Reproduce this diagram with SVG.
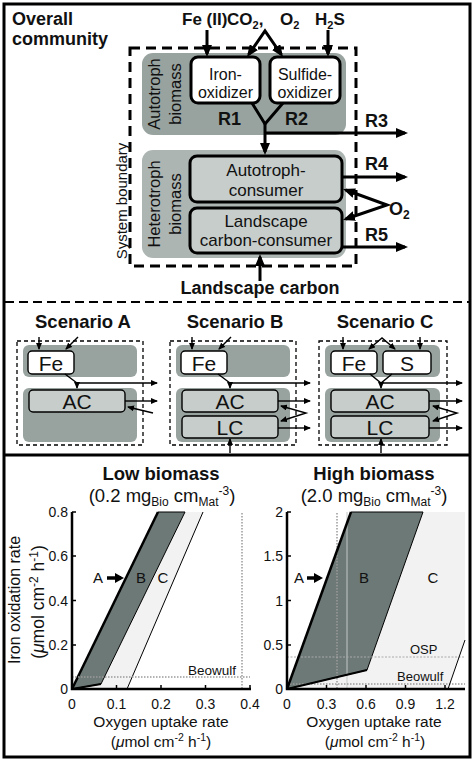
<svg xmlns="http://www.w3.org/2000/svg" width="474" height="761" viewBox="0 0 474 761">
<style>
text{font-family:"Liberation Sans",Arial,sans-serif;fill:#111}
.b{font-weight:bold}
.bx{stroke:#000;stroke-width:3}
.ln{stroke:#000;stroke-width:3;fill:none}
.sl{stroke:#000;stroke-width:1.4;fill:none}
.sb{stroke:#000;stroke-width:1.4}
.sd{fill:none;stroke:#000;stroke-width:1.3;stroke-dasharray:4 3}
.ag{fill:#98a3a0}
.lg{fill:#c6cdcb}
.dot{stroke:#9a9a9a;stroke-width:1.5;stroke-dasharray:1.5 1.5;fill:none}
.tk{font-size:14px;fill:#333}
.ax{stroke:#000;stroke-width:2.5;fill:none}
.th{stroke:#000;stroke-width:1.5}
.c{text-anchor:middle}
.r{text-anchor:end}
</style>
<defs>
<marker id="big" viewBox="0 0 12 10" refX="9" refY="5" markerWidth="12" markerHeight="10" markerUnits="userSpaceOnUse" orient="auto"><path d="M0,0L12,5L0,10z"/></marker>
<marker id="bigr" viewBox="0 0 12 10" refX="9" refY="5" markerWidth="12" markerHeight="10" markerUnits="userSpaceOnUse" orient="auto-start-reverse"><path d="M0,0L12,5L0,10z"/></marker>
<marker id="sm" viewBox="0 0 7 6" refX="6" refY="3" markerWidth="7" markerHeight="6" markerUnits="userSpaceOnUse" orient="auto"><path d="M0,0L7,3L0,6z"/></marker>
<marker id="smr" viewBox="0 0 7 6" refX="6" refY="3" markerWidth="7" markerHeight="6" markerUnits="userSpaceOnUse" orient="auto-start-reverse"><path d="M0,0L7,3L0,6z"/></marker>
<marker id="md" viewBox="0 0 9 10" refX="6" refY="5" markerWidth="9" markerHeight="10" markerUnits="userSpaceOnUse" orient="auto"><path d="M0,0L9,5L0,10z"/></marker>
</defs>
<rect width="474" height="761" fill="#fff"/>

<!-- frame -->
<g id="frame">
<rect x="4" y="4" width="466" height="753" fill="none" stroke="#000" stroke-width="3"/>
<line x1="4" y1="455" x2="470" y2="455" stroke="#000" stroke-width="3"/>
<line x1="5" y1="302" x2="469" y2="302" stroke="#000" stroke-width="2" stroke-dasharray="9 5"/>
</g>

<!-- ===== Overall community ===== -->
<g id="title-overall">
<text class="b" x="12" y="25" font-size="18">Overall</text>
<text class="b" x="12" y="45" font-size="18">community</text>
</g>

<g id="autotroph-biomass">
<rect x="142" y="53" width="204" height="82" rx="11" class="ag"/>
<text transform="translate(160,94) rotate(-90)" class="c" font-size="16.5">Autotroph</text>
<text transform="translate(181,94) rotate(-90)" class="c" font-size="16.5">biomass</text>
</g>
<g id="heterotroph-biomass">
<rect x="142" y="150" width="204" height="108" rx="11" fill="#adb5b3"/>
<text transform="translate(160,204) rotate(-90)" class="c" font-size="16.5">Heterotroph</text>
<text transform="translate(181,204) rotate(-90)" class="c" font-size="16.5">biomass</text>
</g>
<g id="system-boundary">
<rect x="130" y="48" width="226" height="218" fill="none" stroke="#000" stroke-width="3" stroke-dasharray="10 6"/>
<text transform="translate(127,201) rotate(-90)" class="c" font-size="15">System boundary</text>
</g>
<g id="iron-oxidizer">
<rect x="191" y="57" width="69" height="46" rx="7" fill="#fff" class="bx"/>
<text x="225.5" y="80" class="c" font-size="16">Iron-</text>
<text x="225.5" y="98" class="c" font-size="16">oxidizer</text>
</g>
<g id="sulfide-oxidizer">
<rect x="270" y="57" width="70" height="46" rx="7" fill="#fff" class="bx"/>
<text x="305" y="80" class="c" font-size="16">Sulfide-</text>
<text x="305" y="98" class="c" font-size="16">oxidizer</text>
</g>
<g id="autotroph-consumer">
<rect x="190" y="156" width="152" height="46" rx="7" class="lg bx"/>
<text x="266" y="176" class="c" font-size="17">Autotroph-</text>
<text x="266" y="196" class="c" font-size="17">consumer</text>
</g>
<g id="landscape-carbon-consumer">
<rect x="190" y="208" width="152" height="45" rx="7" class="lg bx"/>
<text x="266" y="227" class="c" font-size="17">Landscape</text>
<text x="266" y="246" class="c" font-size="17">carbon-consumer</text>
</g>
<g id="inputs">
<text class="b" x="182" y="25" font-size="17">Fe (II)</text>
<text class="b" x="227" y="25" font-size="17">CO<tspan dy="4" font-size="11">2</tspan><tspan dy="-4">,</tspan></text>
<text class="b" x="280" y="25" font-size="17">O<tspan dy="4" font-size="11">2</tspan></text>
<text class="b" x="315" y="25" font-size="17">H<tspan dy="4" font-size="11">2</tspan><tspan dy="-4">S</tspan></text>
<text class="b c" x="260" y="294" font-size="18">Landscape carbon</text>
<text class="b" x="389" y="215" font-size="18">O<tspan dy="4" font-size="12">2</tspan></text>
</g>
<g id="rates" class="b" font-size="18">
<text x="218" y="125">R1</text>
<text x="285" y="125">R2</text>
<text x="365" y="127">R3</text>
<text x="365" y="170">R4</text>
<text x="365" y="241">R5</text>
</g>

<g id="connectors-top" class="ln">
<line x1="207" y1="30" x2="207" y2="54" marker-end="url(#big)"/>
<path d="M248.7,54.5 L265,31 L281.3,54.5" marker-start="url(#bigr)" marker-end="url(#big)"/>
<line x1="328" y1="30" x2="328" y2="54" marker-end="url(#big)"/>
<path d="M252,103 L265,124 L283,103"/>
<line x1="265" y1="123" x2="265" y2="152" marker-end="url(#big)"/>
<line x1="265" y1="133" x2="405" y2="133" marker-end="url(#big)"/>
<line x1="342" y1="177" x2="405" y2="177" marker-end="url(#big)"/>
<line x1="342" y1="247" x2="405" y2="247" marker-end="url(#big)"/>
<path d="M345.8,190 L387,205 L345.8,219" marker-start="url(#bigr)" marker-end="url(#big)"/>
<line x1="260" y1="281" x2="260" y2="257" marker-end="url(#big)"/>
</g>

<!-- ===== Scenarios ===== -->
<g id="scenario-titles" class="b c" font-size="18.5">
<text x="83" y="328">Scenario A</text>
<text x="235" y="328">Scenario B</text>
<text x="385" y="328">Scenario C</text>
</g>

<g id="scenario-a">
<rect x="17" y="341" width="126" height="104" class="sd"/>
<rect x="23" y="345" width="114" height="32" rx="6" class="ag"/>
<rect x="23" y="388" width="114" height="54" rx="6" class="ag"/>
<rect x="28" y="351" width="46" height="23" rx="4" fill="#fff" class="sb"/>
<text x="51" y="371" class="c" font-size="21">Fe</text>
<rect x="29" y="390" width="96" height="22" rx="4" class="lg sb"/>
<text x="77" y="409" class="c" font-size="21">AC</text>
</g>
<g id="scenario-b">
<rect x="170" y="341" width="126" height="104" class="sd"/>
<rect x="176" y="345" width="114" height="32" rx="6" class="ag"/>
<rect x="176" y="388" width="114" height="54" rx="6" class="ag"/>
<rect x="181" y="351" width="46" height="23" rx="4" fill="#fff" class="sb"/>
<text x="204" y="371" class="c" font-size="21">Fe</text>
<rect x="182" y="390" width="96" height="22" rx="4" class="lg sb"/>
<text x="230" y="409" class="c" font-size="21">AC</text>
<rect x="182" y="416" width="96" height="22" rx="4" class="lg sb"/>
<text x="230" y="435" class="c" font-size="21">LC</text>
</g>
<g id="scenario-c">
<rect x="319" y="341" width="128" height="104" class="sd"/>
<rect x="325" y="345" width="115" height="32" rx="6" class="ag"/>
<rect x="325" y="388" width="115" height="54" rx="6" class="ag"/>
<rect x="331" y="351" width="46" height="23" rx="4" fill="#fff" class="sb"/>
<text x="354" y="371" class="c" font-size="21">Fe</text>
<rect x="383" y="351" width="48" height="23" rx="4" fill="#fff" class="sb"/>
<text x="407" y="371" class="c" font-size="21">S</text>
<rect x="331" y="390" width="98" height="22" rx="4" class="lg sb"/>
<text x="380" y="409" class="c" font-size="21">AC</text>
<rect x="331" y="416" width="98" height="22" rx="4" class="lg sb"/>
<text x="380" y="435" class="c" font-size="21">LC</text>
</g>

<g id="connectors-scenarios" class="sl">
<!-- A -->
<line x1="39" y1="337" x2="39" y2="349" marker-end="url(#sm)"/>
<line x1="78" y1="337" x2="66" y2="349" marker-end="url(#sm)"/>
<polyline points="65,374 77,383 77,388" marker-end="url(#sm)"/>
<line x1="77" y1="383" x2="157" y2="383" marker-end="url(#sm)"/>
<line x1="125" y1="401" x2="157" y2="401" marker-end="url(#sm)"/>
<line x1="153" y1="413" x2="128" y2="407" marker-end="url(#sm)"/>
<!-- B -->
<line x1="192" y1="337" x2="192" y2="349" marker-end="url(#sm)"/>
<line x1="231" y1="337" x2="219" y2="349" marker-end="url(#sm)"/>
<polyline points="218,374 230,383 230,388" marker-end="url(#sm)"/>
<line x1="230" y1="383" x2="310" y2="383" marker-end="url(#sm)"/>
<line x1="278" y1="401" x2="310" y2="401" marker-end="url(#sm)"/>
<line x1="278" y1="428" x2="310" y2="428" marker-end="url(#sm)"/>
<path d="M281,406 L306,413 L281,421" marker-start="url(#smr)" marker-end="url(#sm)"/>
<line x1="230" y1="453" x2="230" y2="439" marker-end="url(#sm)"/>
<!-- C -->
<line x1="343" y1="337" x2="343" y2="349" marker-end="url(#sm)"/>
<path d="M369,349 L382,338 L395,349" marker-start="url(#smr)" marker-end="url(#sm)"/>
<line x1="420" y1="337" x2="420" y2="349" marker-end="url(#sm)"/>
<path d="M370,374 L381,383 L392,374"/>
<line x1="381" y1="383" x2="381" y2="388" marker-end="url(#sm)"/>
<line x1="381" y1="383" x2="462" y2="383" marker-end="url(#sm)"/>
<line x1="429" y1="401" x2="462" y2="401" marker-end="url(#sm)"/>
<line x1="429" y1="428" x2="462" y2="428" marker-end="url(#sm)"/>
<path d="M433,406 L457,413 L433,421" marker-start="url(#smr)" marker-end="url(#sm)"/>
<line x1="381" y1="453" x2="381" y2="439" marker-end="url(#sm)"/>
</g>

<!-- ===== Low biomass chart ===== -->
<g id="chart-low">
<text x="161" y="480" class="b c" font-size="18.5">Low biomass</text>
<text x="162" y="502" class="c" font-size="18.5">(0.2 mg<tspan dy="4" font-size="12">Bio</tspan><tspan dy="-4"> cm</tspan><tspan dy="4" font-size="12">Mat</tspan><tspan dy="-11" font-size="12">-3</tspan><tspan dy="7">)</tspan></text>
<polygon points="185,512 203,512 127,689 72,689 101,684" fill="#f2f2f2"/>
<polygon points="72,689 158,512 185,512 101,684" fill="#6d7976" stroke="#000" stroke-width="1"/>
<line x1="72" y1="689" x2="158" y2="512" stroke="#000" stroke-width="2.5"/>
<line x1="72" y1="689" x2="101" y2="684" stroke="#000" stroke-width="2"/>
<line x1="203" y1="512" x2="127" y2="689" stroke="#000" stroke-width="1"/>
<line x1="242" y1="513" x2="242" y2="689" class="dot"/>
<line x1="72" y1="677" x2="250" y2="677" class="dot"/>
<text x="188" y="675" font-size="13.5" fill="#333">Beowulf</text>
<path d="M72,512 V689 H251" class="ax"/>
<g class="th">
<line x1="72" y1="512" x2="76" y2="512"/><line x1="72" y1="556" x2="76" y2="556"/><line x1="72" y1="600.5" x2="76" y2="600.5"/><line x1="72" y1="645" x2="76" y2="645"/>
<line x1="116.5" y1="689" x2="116.5" y2="685"/><line x1="161" y1="689" x2="161" y2="685"/><line x1="205.5" y1="689" x2="205.5" y2="685"/><line x1="250" y1="689" x2="250" y2="685"/>
</g>
<g class="tk r">
<text x="68" y="517">0.8</text><text x="68" y="561">0.6</text><text x="68" y="605.5">0.4</text><text x="68" y="650">0.2</text><text x="68" y="694">0</text>
</g>
<g class="tk c">
<text x="72" y="709">0</text><text x="116.5" y="709">0.1</text><text x="161" y="709">0.2</text><text x="205.5" y="709">0.3</text><text x="250" y="709">0.4</text>
</g>
<text x="98" y="583" class="c" font-size="15" fill="#222">A</text>
<line x1="107" y1="578" x2="121" y2="578" stroke="#000" stroke-width="3.5" marker-end="url(#md)"/>
<text x="141" y="583" class="c" font-size="15" fill="#222">B</text>
<text x="163" y="583" class="c" font-size="15" fill="#222">C</text>
<text transform="translate(20,600) rotate(-90)" class="c" font-size="16">Iron oxidation rate</text>
<text transform="translate(44,602) rotate(-90)" class="c" font-size="17.5">(<tspan font-style="italic">μ</tspan>mol cm<tspan dy="-6" font-size="12">-2</tspan><tspan dy="6"> h</tspan><tspan dy="-6" font-size="12">-1</tspan><tspan dy="6">)</tspan></text>
<text x="161" y="727" class="c" font-size="15.5">Oxygen uptake rate</text>
<text x="161" y="747" class="c" font-size="15.5">(<tspan font-style="italic">μ</tspan>mol cm<tspan dy="-6" font-size="10.5">-2</tspan><tspan dy="6"> h</tspan><tspan dy="-6" font-size="10.5">-1</tspan><tspan dy="6">)</tspan></text>
</g>

<!-- ===== High biomass chart ===== -->
<g id="chart-high">
<text x="374" y="480" class="b c" font-size="18.5">High biomass</text>
<text x="374" y="502" class="c" font-size="18.5">(2.0 mg<tspan dy="4" font-size="12">Bio</tspan><tspan dy="-4"> cm</tspan><tspan dy="4" font-size="12">Mat</tspan><tspan dy="-11" font-size="12">-3</tspan><tspan dy="7">)</tspan></text>
<polygon points="423,512 465,512 465,640 448,689 287,689 367,670" fill="#f2f2f2"/>
<polygon points="287,689 351,512 423,512 367,670" fill="#6d7976" stroke="#000" stroke-width="1"/>
<line x1="347" y1="512" x2="347" y2="689" stroke="#c3c9c7" stroke-width="1"/>
<line x1="337" y1="513" x2="337" y2="689" class="dot"/>
<line x1="287" y1="657" x2="465" y2="657" stroke="#aaa" stroke-width="1" stroke-dasharray="2 1.5"/>
<line x1="287" y1="684" x2="465" y2="684" class="dot"/>
<line x1="287" y1="689" x2="351" y2="512" stroke="#000" stroke-width="2.5"/>
<line x1="287" y1="689" x2="367" y2="670" stroke="#000" stroke-width="2"/>
<line x1="465" y1="640" x2="448" y2="689" stroke="#000" stroke-width="1"/>
<text x="410" y="654" font-size="13" fill="#333">OSP</text>
<text x="397" y="681" font-size="13" fill="#333">Beowulf</text>
<path d="M287,512 V689 H465" class="ax"/>
<g class="th">
<line x1="287" y1="512" x2="291" y2="512"/><line x1="287" y1="556" x2="291" y2="556"/><line x1="287" y1="600.5" x2="291" y2="600.5"/><line x1="287" y1="645" x2="291" y2="645"/>
<line x1="326.5" y1="689" x2="326.5" y2="685"/><line x1="366" y1="689" x2="366" y2="685"/><line x1="405.5" y1="689" x2="405.5" y2="685"/><line x1="445" y1="689" x2="445" y2="685"/>
</g>
<g class="tk r">
<text x="283" y="517">2</text><text x="283" y="561">1.5</text><text x="283" y="605.5">1</text><text x="283" y="650">0.5</text><text x="283" y="694">0</text>
</g>
<g class="tk c">
<text x="287" y="709">0</text><text x="326.5" y="709">0.3</text><text x="366" y="709">0.6</text><text x="405.5" y="709">0.9</text><text x="445" y="709">1.2</text>
</g>
<text x="299" y="583" class="c" font-size="15" fill="#222">A</text>
<line x1="307" y1="578" x2="320" y2="578" stroke="#000" stroke-width="3.5" marker-end="url(#md)"/>
<text x="364" y="583" class="c" font-size="15" fill="#222">B</text>
<text x="433" y="583" class="c" font-size="15" fill="#222">C</text>
<text x="374" y="727" class="c" font-size="15.5">Oxygen uptake rate</text>
<text x="375" y="747" class="c" font-size="15.5">(<tspan font-style="italic">μ</tspan>mol cm<tspan dy="-6" font-size="10.5">-2</tspan><tspan dy="6"> h</tspan><tspan dy="-6" font-size="10.5">-1</tspan><tspan dy="6">)</tspan></text>
</g>
</svg>
